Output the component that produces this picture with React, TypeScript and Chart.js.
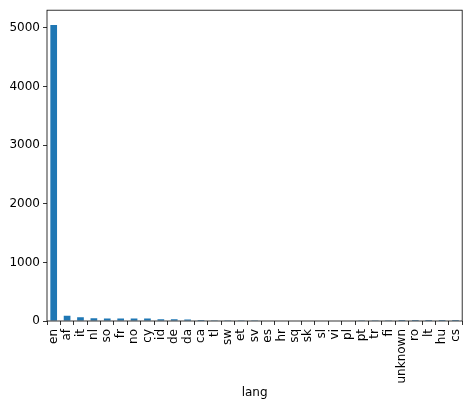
import React, { useEffect, useRef } from 'react';
import { Chart, registerables } from 'chart.js';

Chart.register(...registerables);

const langs = ['en', 'af', 'it', 'nl', 'so', 'fr', 'no', 'cy', 'id', 'de', 'da', 'ca', 'tl', 'sw', 'et', 'sv', 'es', 'hr', 'sq', 'sk', 'sl', 'vi', 'pl', 'pt', 'tr', 'fi', 'unknown', 'ro', 'lt', 'hu', 'cs'];
const counts = [5050, 90, 62, 45, 44, 43, 42, 42, 30, 28, 27, 15, 14, 13, 12, 11, 10, 9, 9, 8, 8, 7, 7, 6, 6, 3, 2, 2, 1, 1, 1];
const yTicks = [0, 1000, 2000, 3000, 4000, 5000];

const FONT = "'DejaVu Sans'";

// draws the full box around the plot, like matplotlib's spines
const framePlugin = {
    id: 'frame',
    afterDraw(chart: Chart) {
        const { ctx, chartArea } = chart;
        ctx.save();
        ctx.strokeStyle = '#000';
        ctx.lineWidth = 0.8;
        ctx.strokeRect(chartArea.left, chartArea.top, chartArea.right - chartArea.left, chartArea.bottom - chartArea.top);
        ctx.restore();
    },
};

function LangChart() {
    const chartRef = useRef<HTMLCanvasElement | null>(null);
    const chartInstance = useRef<Chart | null>(null);

    useEffect(() => {
        if (!chartRef.current) return;
        if (chartInstance.current) chartInstance.current.destroy();

        chartInstance.current = new Chart(chartRef.current, {
            type: 'bar',
            data: {
                labels: langs,
                datasets: [{
                    data: counts,
                    backgroundColor: '#1f77b4',
                    borderWidth: 0,
                    categoryPercentage: 1,
                    barPercentage: 0.5,
                }],
            },
            options: {
                animation: false,
                responsive: true,
                maintainAspectRatio: false,
                layout: { padding: { top: 8, right: 7, left: 0, bottom: 0 } },
                plugins: {
                    legend: { display: false },
                    tooltip: { enabled: false },
                },
                scales: {
                    x: {
                        offset: true,
                        grid: { display: true, drawOnChartArea: false, drawTicks: true, tickLength: 4, tickColor: '#000', tickWidth: 0.8 },
                        border: { display: false },
                        ticks: {
                            color: '#000',
                            font: { family: FONT, size: 12 },
                            minRotation: 90,
                            maxRotation: 90,
                            autoSkip: false,
                            padding: 4,
                        },
                        title: {
                            display: true,
                            text: 'lang',
                            color: '#000',
                            font: { family: FONT, size: 12 },
                            padding: { top: 0, bottom: 7 },
                        },
                        afterFit(scale: any) { scale.height = 86; },
                    },
                    y: {
                        min: 0,
                        max: 5302,
                        grid: { display: true, drawOnChartArea: false, drawTicks: true, tickLength: 4, tickColor: '#000', tickWidth: 0.8 },
                        border: { display: false },
                        afterBuildTicks(scale: any) { scale.ticks = yTicks.map(v => ({ value: v })); },
                        ticks: {
                            color: '#000',
                            font: { family: FONT, size: 12 },
                            padding: 3,
                            callback: (v: any) => String(v),
                        },
                        afterFit(scale: any) { scale.width = 47; },
                    },
                },
            },
            plugins: [framePlugin],
        });

        return () => {
            if (chartInstance.current) {
                chartInstance.current.destroy();
                chartInstance.current = null;
            }
        };
    }, []);

    return <canvas ref={chartRef} />;
}

export default function App() {
    return (
        <div style={{ position: 'fixed', left: 0, top: 0, width: 474, height: 407, background: '#fff' }}>
            <LangChart />
        </div>
    );
}
